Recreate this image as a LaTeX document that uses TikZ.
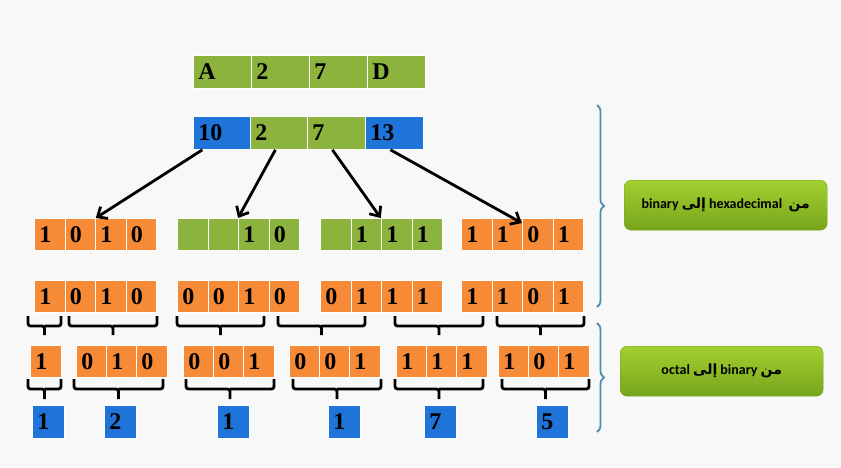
\documentclass[tikz,border=0pt]{standalone}
\usepackage{fontspec}
\setmainfont{Liberation Serif}
\newfontfamily\lbl{Carlito}
\newfontfamily\ar[Script=Arabic]{DejaVu Sans}
\usetikzlibrary{decorations.pathreplacing,arrows.meta}
\definecolor{bg}{HTML}{F8F8F8}
\definecolor{og}{HTML}{F68A36}
\definecolor{gr}{HTML}{8DB33F}
\definecolor{bl}{HTML}{1F74DA}
\definecolor{bk}{HTML}{4A90B0}
\definecolor{lg1}{HTML}{A4CF30}
\definecolor{lg2}{HTML}{76A51C}
\begin{document}
\begin{tikzpicture}[x=1pt,y=-1pt,
  cell/.style={rectangle,fill=#1,draw=white,line width=0.8pt,anchor=north west,
    inner xsep=5pt,inner ysep=0pt,align=left,font=\bfseries\fontsize{24}{26}\selectfont},
  bit/.style={cell=#1,minimum width=30.5pt,minimum height=32pt,text width=20.5pt},
  hx/.style={cell=#1,minimum width=58pt,minimum height=33pt,text width=48pt},
  br/.style={line width=2.8pt,rounded corners=2.5pt},
  bb/.style={line width=1.8pt,draw=bk,decorate,decoration={brace,amplitude=7pt}},
  arr/.style={line width=2.8pt,-{Straight Barb[length=8pt,width=14pt]}},
  lab/.style={rounded corners=7pt,top color=lg1,bottom color=lg2,draw=lg2,
    minimum width=203pt,minimum height=50pt,anchor=north west,
    font=\lbl\bfseries\fontsize{14}{16}\selectfont}]
\useasboundingbox[fill=bg] (0,0) rectangle (841,467);

% hexadecimal row
\foreach \t [count=\i] in {A,2,7,D}
  \node[hx=gr] (a\i) at ({193+58*(\i-1)},55) {\t};
\node[hx=bl] (b1) at (193,116) {10};
\node[hx=gr] (b2) at (250,116) {2};
\node[hx=gr] (b3) at (307,116) {7};
\node[hx=bl] (b4) at (365,116) {13};

% four bit groups
\foreach \t [count=\i] in {1,0,1,0}
  \node[bit=og] (c1-\i) at ({34+30.5*(\i-1)},218) {\t};
\foreach \t [count=\i] in {{},{},1,0}
  \node[bit=gr] (c2-\i) at ({177+30.5*(\i-1)},218) {\t};
\foreach \t [count=\i] in {{},1,1,1}
  \node[bit=gr] (c3-\i) at ({320+30.5*(\i-1)},218) {\t};
\foreach \t [count=\i] in {1,1,0,1}
  \node[bit=og] (c4-\i) at ({461+30.5*(\i-1)},218) {\t};

\draw[arr] ([xshift=-20pt]b1.south) -- (c1-2.north east);
\draw[arr] ([xshift=-4pt]b2.south) -- (c2-3.north west);
\draw[arr] ([xshift=-4pt]b3.south) -- ([xshift=-1pt]c3-2.north east);
\draw[arr] ([xshift=-4pt]b4.south) -- ([xshift=-1pt,yshift=-5pt]c4-2.north east);

% padded four bit groups
\foreach \t [count=\i] in {1,0,1,0}
  \node[bit=og] (d1-\i) at ({34+30.5*(\i-1)},280) {\t};
\foreach \t [count=\i] in {0,0,1,0}
  \node[bit=og] (d2-\i) at ({177+30.5*(\i-1)},280) {\t};
\foreach \t [count=\i] in {0,1,1,1}
  \node[bit=og] (d3-\i) at ({320+30.5*(\i-1)},280) {\t};
\foreach \t [count=\i] in {1,1,0,1}
  \node[bit=og] (d4-\i) at ({461+30.5*(\i-1)},280) {\t};

\foreach \a/\b in {28/61,69/157,177/264,278/365,395/483,497/584}
  \draw[br] (\a,316) -- (\a,326) -- ({(\a+\b)/2},326) -- ({(\a+\b)/2},335)
    ({(\a+\b)/2},326) -- (\b,326) -- (\b,316);

% three bit groups
\node[bit=og] (e1-1) at (30,345) {1};
\foreach \t [count=\i] in {0,1,0}
  \node[bit=og,minimum width=30pt] (e2-\i) at ({76+30*(\i-1)},345) {\t};
\foreach \t [count=\i] in {0,0,1}
  \node[bit=og,minimum width=30pt] (e3-\i) at ({183+30*(\i-1)},345) {\t};
\foreach \t [count=\i] in {0,0,1}
  \node[bit=og,minimum width=30pt] (e4-\i) at ({289+30*(\i-1)},345) {\t};
\foreach \t [count=\i] in {1,1,1}
  \node[bit=og,minimum width=30pt] (e5-\i) at ({396+30*(\i-1)},345) {\t};
\foreach \t [count=\i] in {1,0,1}
  \node[bit=og,minimum width=30pt] (e6-\i) at ({498+30*(\i-1)},345) {\t};

\foreach \a/\b in {28/61,74/163,186/274,293/381,395/483,502/589}
  \draw[br] (\a,379) -- (\a,389) -- ({(\a+\b)/2},389) -- ({(\a+\b)/2},399)
    ({(\a+\b)/2},389) -- (\b,389) -- (\b,379);

% octal digits
\foreach \x/\t [count=\i] in {32/1,104/2,217/1,328/1,424/7,536/5}
  \node[bit=bl,minimum width=32pt,minimum height=33pt,text width=22pt] (f\i) at (\x,405) {\t};

% right braces and labels
\draw[bb] (597,105) -- (597,307);
\draw[bb] (597,323) -- (597,432);
\node[lab] (l1) at (624,180) {binary {\ar إلى} hexadecimal\ \ {\ar من}};
\node[lab] (l2) at (620,346) {octal {\ar إلى} binary {\ar من}};
\end{tikzpicture}
\end{document}
